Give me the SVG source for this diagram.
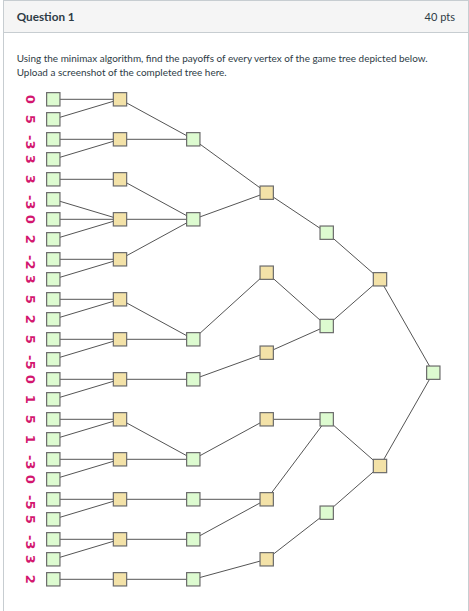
<svg xmlns="http://www.w3.org/2000/svg" width="469" height="611" viewBox="0 0 469 611">
<style>
.frame{fill:none;stroke:#c7cdd1;stroke-width:1}
.hdr{font-family:Lato,"Liberation Sans",sans-serif;fill:#2d3b45}
.body{font-family:Lato,"Liberation Sans",sans-serif;font-size:10px;fill:#2d3b45}
.lbl{font-family:"DejaVu Sans",sans-serif;font-weight:bold;font-size:13px;fill:#d3176f}
.g use{fill:#ddfbd0;stroke:#6b6b6b;stroke-width:1.2}
.t use{fill:#f3e2a8;stroke:#6b6b6b;stroke-width:1.2}
#connectors line{stroke:#555;stroke-width:1}
</style>
<defs>
<rect id="box" x="-6.67" y="-6.67" width="13.33" height="13.33"/>
</defs>
<rect x="0" y="0" width="469" height="611" fill="#fff"/>
<rect x="3.5" y="0.5" width="465" height="32" fill="#f5f5f5" stroke="none"/>
<line class="frame" x1="3.5" y1="0.5" x2="468.5" y2="0.5"/>
<line class="frame" x1="3.5" y1="32.5" x2="468.5" y2="32.5"/>
<line class="frame" x1="3.5" y1="0" x2="3.5" y2="611"/>
<line class="frame" x1="468.5" y1="0" x2="468.5" y2="611"/>
<text class="hdr" x="16.7" y="21" font-size="12" font-weight="bold" textLength="58" lengthAdjust="spacingAndGlyphs">Question 1</text>
<text class="hdr" x="455" y="21" font-size="11" text-anchor="end">40 pts</text>
<text class="body" x="16.7" y="61.5" textLength="411" lengthAdjust="spacingAndGlyphs">Using the minimax algorithm, find the payoffs of every vertex of the game tree depicted below.</text>
<text class="body" x="16.7" y="75.5" textLength="210" lengthAdjust="spacingAndGlyphs">Upload a screenshot of the completed tree here.</text>

<g id="labels">
<text class="lbl" transform="translate(30,99.3) rotate(90)" text-anchor="middle" dominant-baseline="central">0</text>
<text class="lbl" transform="translate(30,119.3) rotate(90)" text-anchor="middle" dominant-baseline="central">5</text>
<text class="lbl" transform="translate(30,142.3) rotate(90)" text-anchor="middle" dominant-baseline="central">-3</text>
<text class="lbl" transform="translate(30,159.3) rotate(90)" text-anchor="middle" dominant-baseline="central">3</text>
<text class="lbl" transform="translate(30,179.3) rotate(90)" text-anchor="middle" dominant-baseline="central">3</text>
<text class="lbl" transform="translate(30,202.3) rotate(90)" text-anchor="middle" dominant-baseline="central">-3</text>
<text class="lbl" transform="translate(30,219.3) rotate(90)" text-anchor="middle" dominant-baseline="central">0</text>
<text class="lbl" transform="translate(30,239.3) rotate(90)" text-anchor="middle" dominant-baseline="central">2</text>
<text class="lbl" transform="translate(30,262.3) rotate(90)" text-anchor="middle" dominant-baseline="central">-2</text>
<text class="lbl" transform="translate(30,279.3) rotate(90)" text-anchor="middle" dominant-baseline="central">3</text>
<text class="lbl" transform="translate(30,299.3) rotate(90)" text-anchor="middle" dominant-baseline="central">5</text>
<text class="lbl" transform="translate(30,319.3) rotate(90)" text-anchor="middle" dominant-baseline="central">2</text>
<text class="lbl" transform="translate(30,339.3) rotate(90)" text-anchor="middle" dominant-baseline="central">5</text>
<text class="lbl" transform="translate(30,362.3) rotate(90)" text-anchor="middle" dominant-baseline="central">-5</text>
<text class="lbl" transform="translate(30,379.3) rotate(90)" text-anchor="middle" dominant-baseline="central">0</text>
<text class="lbl" transform="translate(30,399.3) rotate(90)" text-anchor="middle" dominant-baseline="central">1</text>
<text class="lbl" transform="translate(30,419.3) rotate(90)" text-anchor="middle" dominant-baseline="central">5</text>
<text class="lbl" transform="translate(30,439.3) rotate(90)" text-anchor="middle" dominant-baseline="central">1</text>
<text class="lbl" transform="translate(30,462.3) rotate(90)" text-anchor="middle" dominant-baseline="central">-3</text>
<text class="lbl" transform="translate(30,479.3) rotate(90)" text-anchor="middle" dominant-baseline="central">0</text>
<text class="lbl" transform="translate(30,502.3) rotate(90)" text-anchor="middle" dominant-baseline="central">-5</text>
<text class="lbl" transform="translate(30,519.3) rotate(90)" text-anchor="middle" dominant-baseline="central">5</text>
<text class="lbl" transform="translate(30,542.3) rotate(90)" text-anchor="middle" dominant-baseline="central">-3</text>
<text class="lbl" transform="translate(30,559.3) rotate(90)" text-anchor="middle" dominant-baseline="central">3</text>
<text class="lbl" transform="translate(30,579.3) rotate(90)" text-anchor="middle" dominant-baseline="central">2</text>
</g>

<g id="connectors">
<line x1="53.3" y1="99.3" x2="120" y2="99.3"/>
<line x1="53.3" y1="119.3" x2="120" y2="99.3"/>
<line x1="53.3" y1="139.3" x2="120" y2="139.3"/>
<line x1="53.3" y1="159.3" x2="120" y2="139.3"/>
<line x1="53.3" y1="179.3" x2="120" y2="179.3"/>
<line x1="53.3" y1="199.3" x2="120" y2="219.3"/>
<line x1="53.3" y1="219.3" x2="120" y2="219.3"/>
<line x1="53.3" y1="239.3" x2="120" y2="219.3"/>
<line x1="53.3" y1="259.3" x2="120" y2="259.3"/>
<line x1="53.3" y1="279.3" x2="120" y2="259.3"/>
<line x1="53.3" y1="299.3" x2="120" y2="299.3"/>
<line x1="53.3" y1="319.3" x2="120" y2="299.3"/>
<line x1="53.3" y1="339.3" x2="120" y2="339.3"/>
<line x1="53.3" y1="359.3" x2="120" y2="339.3"/>
<line x1="53.3" y1="379.3" x2="120" y2="379.3"/>
<line x1="53.3" y1="399.3" x2="120" y2="379.3"/>
<line x1="53.3" y1="419.3" x2="120" y2="419.3"/>
<line x1="53.3" y1="439.3" x2="120" y2="419.3"/>
<line x1="53.3" y1="459.3" x2="120" y2="459.3"/>
<line x1="53.3" y1="479.3" x2="120" y2="459.3"/>
<line x1="53.3" y1="499.3" x2="120" y2="499.3"/>
<line x1="53.3" y1="519.3" x2="120" y2="499.3"/>
<line x1="53.3" y1="539.3" x2="120" y2="539.3"/>
<line x1="53.3" y1="559.3" x2="120" y2="539.3"/>
<line x1="53.3" y1="579.3" x2="120" y2="579.3"/>
<line x1="120" y1="99.3" x2="193.3" y2="139.3"/>
<line x1="120" y1="139.3" x2="193.3" y2="139.3"/>
<line x1="120" y1="179.3" x2="193.3" y2="219.3"/>
<line x1="120" y1="219.3" x2="193.3" y2="219.3"/>
<line x1="120" y1="259.3" x2="193.3" y2="219.3"/>
<line x1="120" y1="299.3" x2="193.3" y2="339.3"/>
<line x1="120" y1="339.3" x2="193.3" y2="339.3"/>
<line x1="120" y1="379.3" x2="193.3" y2="379.3"/>
<line x1="120" y1="419.3" x2="193.3" y2="459.3"/>
<line x1="120" y1="459.3" x2="193.3" y2="459.3"/>
<line x1="120" y1="499.3" x2="193.3" y2="499.3"/>
<line x1="120" y1="539.3" x2="193.3" y2="539.3"/>
<line x1="120" y1="579.3" x2="193.3" y2="579.3"/>
<line x1="193.3" y1="139.3" x2="266.7" y2="192.7"/>
<line x1="193.3" y1="219.3" x2="266.7" y2="192.7"/>
<line x1="193.3" y1="339.3" x2="266.7" y2="272.7"/>
<line x1="193.3" y1="379.3" x2="266.7" y2="352.7"/>
<line x1="193.3" y1="459.3" x2="266.7" y2="419.3"/>
<line x1="193.3" y1="499.3" x2="266.7" y2="499.3"/>
<line x1="193.3" y1="539.3" x2="266.7" y2="499.3"/>
<line x1="193.3" y1="579.3" x2="266.7" y2="559.3"/>
<line x1="266.7" y1="192.7" x2="326.7" y2="232.7"/>
<line x1="266.7" y1="272.7" x2="326.7" y2="326"/>
<line x1="266.7" y1="352.7" x2="326.7" y2="326"/>
<line x1="266.7" y1="419.3" x2="326.7" y2="419.3"/>
<line x1="266.7" y1="499.3" x2="326.7" y2="419.3"/>
<line x1="266.7" y1="559.3" x2="326.7" y2="512.7"/>
<line x1="326.7" y1="232.7" x2="380" y2="279.3"/>
<line x1="326.7" y1="326" x2="380" y2="279.3"/>
<line x1="326.7" y1="419.3" x2="380" y2="466"/>
<line x1="326.7" y1="512.7" x2="380" y2="466"/>
<line x1="380" y1="279.3" x2="433.3" y2="372.7"/>
<line x1="380" y1="466" x2="433.3" y2="372.7"/>
</g>

<g id="leaves" class="g">
<g id="L0"><use href="#box" x="53.3" y="99.3"/></g>
<g id="L1"><use href="#box" x="53.3" y="119.3"/></g>
<g id="L2"><use href="#box" x="53.3" y="139.3"/></g>
<g id="L3"><use href="#box" x="53.3" y="159.3"/></g>
<g id="L4"><use href="#box" x="53.3" y="179.3"/></g>
<g id="L5"><use href="#box" x="53.3" y="199.3"/></g>
<g id="L6"><use href="#box" x="53.3" y="219.3"/></g>
<g id="L7"><use href="#box" x="53.3" y="239.3"/></g>
<g id="L8"><use href="#box" x="53.3" y="259.3"/></g>
<g id="L9"><use href="#box" x="53.3" y="279.3"/></g>
<g id="L10"><use href="#box" x="53.3" y="299.3"/></g>
<g id="L11"><use href="#box" x="53.3" y="319.3"/></g>
<g id="L12"><use href="#box" x="53.3" y="339.3"/></g>
<g id="L13"><use href="#box" x="53.3" y="359.3"/></g>
<g id="L14"><use href="#box" x="53.3" y="379.3"/></g>
<g id="L15"><use href="#box" x="53.3" y="399.3"/></g>
<g id="L16"><use href="#box" x="53.3" y="419.3"/></g>
<g id="L17"><use href="#box" x="53.3" y="439.3"/></g>
<g id="L18"><use href="#box" x="53.3" y="459.3"/></g>
<g id="L19"><use href="#box" x="53.3" y="479.3"/></g>
<g id="L20"><use href="#box" x="53.3" y="499.3"/></g>
<g id="L21"><use href="#box" x="53.3" y="519.3"/></g>
<g id="L22"><use href="#box" x="53.3" y="539.3"/></g>
<g id="L23"><use href="#box" x="53.3" y="559.3"/></g>
<g id="L24"><use href="#box" x="53.3" y="579.3"/></g>
</g>

<g id="level1" class="t">
<g id="T0"><use href="#box" x="120" y="99.3"/></g>
<g id="T1"><use href="#box" x="120" y="139.3"/></g>
<g id="T2"><use href="#box" x="120" y="179.3"/></g>
<g id="T3"><use href="#box" x="120" y="219.3"/></g>
<g id="T4"><use href="#box" x="120" y="259.3"/></g>
<g id="T5"><use href="#box" x="120" y="299.3"/></g>
<g id="T6"><use href="#box" x="120" y="339.3"/></g>
<g id="T7"><use href="#box" x="120" y="379.3"/></g>
<g id="T8"><use href="#box" x="120" y="419.3"/></g>
<g id="T9"><use href="#box" x="120" y="459.3"/></g>
<g id="T10"><use href="#box" x="120" y="499.3"/></g>
<g id="T11"><use href="#box" x="120" y="539.3"/></g>
<g id="T12"><use href="#box" x="120" y="579.3"/></g>
</g>

<g id="level2" class="g">
<g id="G0"><use href="#box" x="193.3" y="139.3"/></g>
<g id="G1"><use href="#box" x="193.3" y="219.3"/></g>
<g id="G2"><use href="#box" x="193.3" y="339.3"/></g>
<g id="G3"><use href="#box" x="193.3" y="379.3"/></g>
<g id="G4"><use href="#box" x="193.3" y="459.3"/></g>
<g id="G5"><use href="#box" x="193.3" y="499.3"/></g>
<g id="G6"><use href="#box" x="193.3" y="539.3"/></g>
<g id="G7"><use href="#box" x="193.3" y="579.3"/></g>
</g>

<g id="level3" class="t">
<g id="H0"><use href="#box" x="266.7" y="192.7"/></g>
<g id="H1"><use href="#box" x="266.7" y="272.7"/></g>
<g id="H2"><use href="#box" x="266.7" y="352.7"/></g>
<g id="H3"><use href="#box" x="266.7" y="419.3"/></g>
<g id="H4"><use href="#box" x="266.7" y="499.3"/></g>
<g id="H5"><use href="#box" x="266.7" y="559.3"/></g>
</g>

<g id="level4" class="g">
<g id="K0"><use href="#box" x="326.7" y="232.7"/></g>
<g id="K1"><use href="#box" x="326.7" y="326"/></g>
<g id="K2"><use href="#box" x="326.7" y="419.3"/></g>
<g id="K3"><use href="#box" x="326.7" y="512.7"/></g>
</g>

<g id="level5" class="t">
<g id="M0"><use href="#box" x="380" y="279.3"/></g>
<g id="M1"><use href="#box" x="380" y="466"/></g>
</g>

<g id="root" class="g">
<g id="R"><use href="#box" x="433.3" y="372.7"/></g>
</g>
</svg>
